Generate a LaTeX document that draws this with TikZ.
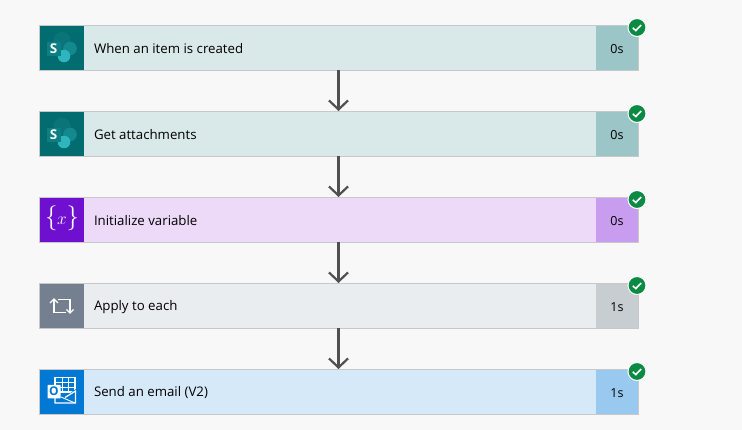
\documentclass[tikz,border=0pt]{standalone}
\usepackage{fontspec}
\setmainfont{Open Sans}
\usetikzlibrary{arrows.meta}
\definecolor{pagebg}{HTML}{F8F8F8}
\definecolor{edgec}{HTML}{C8C8C8}
\definecolor{arrowc}{HTML}{505050}
\definecolor{okgreen}{HTML}{0A8A43}
\definecolor{tealA}{HTML}{D9E9E9}\definecolor{tealB}{HTML}{9BC5C6}\definecolor{tealC}{HTML}{036C70}
\definecolor{purpA}{HTML}{ECDAF8}\definecolor{purpB}{HTML}{C89DF0}\definecolor{purpC}{HTML}{6F0FD0}
\definecolor{grayA}{HTML}{E9EDF0}\definecolor{grayB}{HTML}{C8CDD1}\definecolor{grayC}{HTML}{748090}
\definecolor{blueA}{HTML}{D6E9F9}\definecolor{blueB}{HTML}{99C9EF}\definecolor{blueC}{HTML}{0078D4}
\definecolor{spA}{HTML}{0A7478}\definecolor{spB}{HTML}{13898E}\definecolor{spC}{HTML}{2FB5BD}\definecolor{spD}{HTML}{0B7F83}
\tikzset{
  x=1pt,y=-1pt,
  card/.style={draw=edgec,line width=1pt,minimum width=599pt,minimum height=45pt,inner sep=0pt,outer sep=0pt},
  iconbox/.style={minimum width=44pt,minimum height=44pt,inner sep=0pt,outer sep=0pt},
  timebox/.style={minimum width=41.5pt,minimum height=44pt,inner sep=0pt,outer sep=0pt},
  timetext/.style={inner sep=0pt,font=\fontsize{12.5pt}{14pt}\selectfont,text=black},
  lbl/.style={anchor=west,inner sep=0pt,outer sep=0pt,font=\fontsize{13.25pt}{15pt}\selectfont,text=black},
  badge/.style={circle,fill=okgreen,draw=white,line width=1pt,minimum size=18pt,inner sep=0pt},
  flow/.style={draw=arrowc,line width=2.2pt,-{Straight Barb[length=9pt,width=19pt,line width=2.2pt]},shorten >=0.5pt},
  glyph/.style={draw=white,line width=1.2pt,fill=none},
}
\newcommand{\flowcard}[7]{%
  \node[card,fill=#3] (#1) at (338.5,#2+23) {};
  \node[iconbox,fill=#5] (#1icon) at (62,#2+23) {};
  \node[timebox,fill=#4] (#1time) at (617,#2+23) {};
  \node[timetext] (#1timetext) at (617,#2+24) {#7};
  \node[lbl] (#1label) at (94,#2+24) {#6};
  \node[badge] (#1ok) at (637,#2+2.5) {};
  \draw[white,line width=1.6pt] (632.8,#2+2.8) -- (635.8,#2+5.6) -- (641.2,#2+0);
}
\newcommand{\spicon}[1]{%
  \fill[spA] (62,#1+15.5) circle (8.7);
  \fill[spB] (70,#1+23.5) circle (6.8);
  \fill[spC] (64,#1+31) circle (6.3);
  \fill[spD] (47,#1+17) rectangle (60.5,#1+31);
  \node[inner sep=0pt,text=white,font=\bfseries\fontsize{13.5pt}{14pt}\selectfont] (s#1) at (53.7,#1+24) {S};
}
\begin{document}
\begin{tikzpicture}
\useasboundingbox[fill=pagebg] (0,0) rectangle (742,430);
\flowcard{a}{25}{tealA}{tealB}{tealC}{When an item is created}{0s}
\flowcard{b}{111}{tealA}{tealB}{tealC}{Get attachments}{0s}
\flowcard{c}{197}{purpA}{purpB}{purpC}{Initialize variable}{0s}
\flowcard{d}{283}{grayA}{grayB}{grayC}{Apply to each}{1s}
\flowcard{e}{369}{blueA}{blueB}{blueC}{Send an email (V2)}{1s}
\spicon{25}
\spicon{111}
% variable icon
\node[inner sep=0pt,text=white] (varglyph) at (62,218.5) {\fontsize{23pt}{24pt}\selectfont$\{$\kern-.3pt\fontsize{19pt}{20pt}\selectfont$x$\kern-.3pt\fontsize{23pt}{24pt}\selectfont$\}$};
% loop icon
\draw[glyph] (54,300) -- (54,312.5) -- (66,312.5);
\draw[glyph] (50,303) -- (54,299) -- (58,303);
\draw[glyph] (57.5,299.5) -- (70,299.5) -- (70,312.5);
\draw[glyph] (66.5,309.5) -- (70,313) -- (73.5,309.5);
% outlook icon
\draw[glyph] (55,377.5) rectangle (75,392);
\draw[glyph,line width=.9pt] (62,377.5) -- (62,392) (68.5,377.5) -- (68.5,392) (55,382.5) -- (75,382.5) (55,387.5) -- (75,387.5);
\fill[blueC] (56,391) -- (66,396) -- (76,389) -- (76,404) -- (53,404) -- (53,399) -- cycle;
\draw[glyph] (55,398) -- (55,403) -- (75.5,403) -- (75.5,391) -- (65,397.5);
\draw[glyph,line width=.9pt] (61,397) -- (75,403);
\fill[white,rounded corners=.5pt] (47.5,385) rectangle (60.5,398.5);
\node[text=blueC,font=\bfseries\fontsize{12pt}{13pt}\selectfont,inner sep=0pt] (oglyph) at (54,391.7) {O};
% connectors
\draw[flow] (a.south) -- (b.north);
\draw[flow] (b.south) -- (c.north);
\draw[flow] (c.south) -- (d.north);
\draw[flow] (d.south) -- (e.north);
\end{tikzpicture}
\end{document}
